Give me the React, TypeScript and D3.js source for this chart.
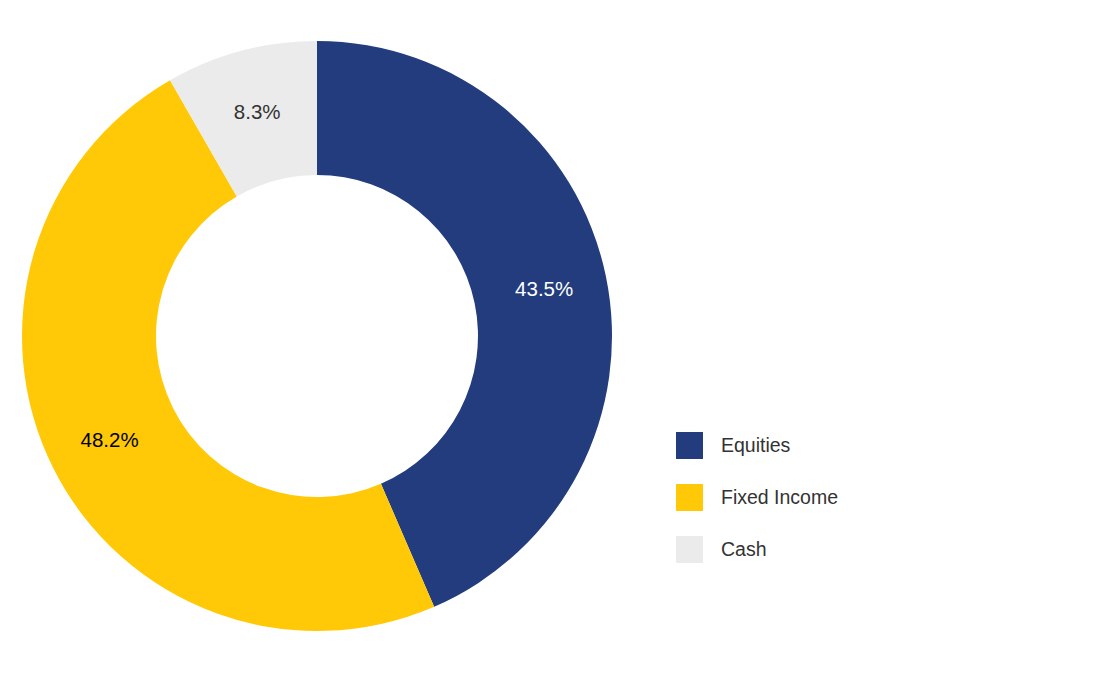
import React, { useEffect, useRef } from 'react';
import * as d3 from 'd3';

const categories = ['Equities', 'Fixed Income', 'Cash'];
const shares = [43.5, 48.2, 8.3];
const sliceColors = ['#233c7d', '#ffc907', '#ebebeb'];
const labelColors = ['#ffffff', '#000000', '#333333'];

const App: React.FC = () => {
  const svgRef = useRef<SVGSVGElement | null>(null);

  useEffect(() => {
    if (!svgRef.current) return;

    const width = 1100;
    const height = 675;
    const cx = 317;
    const cy = 336;
    const outerRadius = 295;
    const innerRadius = 161;

    const svg = d3.select(svgRef.current)
      .attr('width', width)
      .attr('height', height)
      .style('font-family', 'Arial, "Liberation Sans", sans-serif');

    svg.selectAll('*').remove();

    const pie = d3.pie<number>().sort(null).value(d => d);
    const arcs = pie(shares);

    const arc = d3.arc<d3.PieArcDatum<number>>()
      .innerRadius(innerRadius)
      .outerRadius(outerRadius);

    // labels sit a bit outside the ring's middle
    const labelArc = d3.arc<d3.PieArcDatum<number>>()
      .innerRadius(232)
      .outerRadius(232);

    const g = svg.append('g').attr('transform', `translate(${cx},${cy})`);

    g.selectAll('path')
      .data(arcs)
      .join('path')
      .attr('d', arc as any)
      .attr('fill', (_, i) => sliceColors[i]);

    g.selectAll('text')
      .data(arcs)
      .join('text')
      .attr('transform', d => `translate(${labelArc.centroid(d)})`)
      .attr('text-anchor', 'middle')
      .attr('dy', '0.35em')
      .attr('font-size', 20.5)
      .attr('fill', (_, i) => labelColors[i])
      .text(d => `${d.data.toFixed(1)}%`);

    // Legend
    const legend = svg.append('g').attr('transform', 'translate(676,432)');
    const rows = legend.selectAll('g')
      .data(categories)
      .join('g')
      .attr('transform', (_, i) => `translate(0,${i * 52})`);

    rows.append('rect')
      .attr('width', 27)
      .attr('height', 27)
      .attr('fill', (_, i) => sliceColors[i]);

    rows.append('text')
      .attr('x', 45)
      .attr('y', 13.5)
      .attr('dy', '0.35em')
      .attr('font-size', 19.5)
      .attr('fill', '#333333')
      .text(d => d);
  }, []);

  return (
    <div style={{ margin: -8 }}>
      <svg ref={svgRef} style={{ display: 'block' }}></svg>
    </div>
  );
};

export default App;
